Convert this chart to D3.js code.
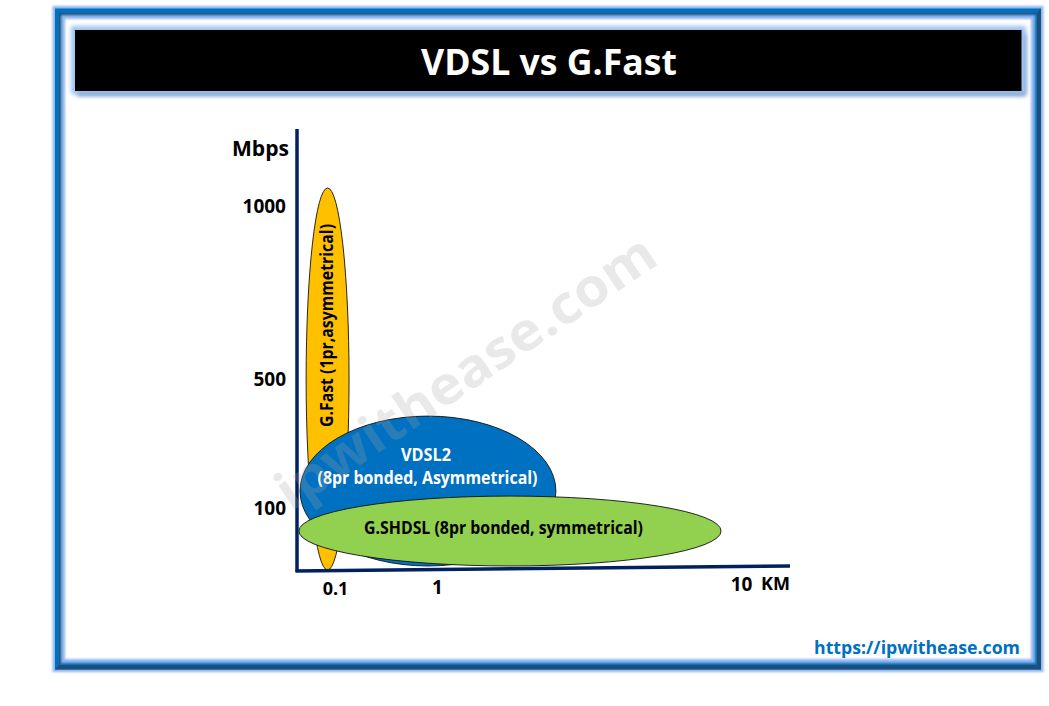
<!DOCTYPE html>
<html><head><meta charset="utf-8">
<script src="https://cdnjs.cloudflare.com/ajax/libs/d3/7.8.5/d3.min.js"></script>
<style>html,body{margin:0;padding:0;background:#fff}svg{display:block}text{font-family:"Open Sans",sans-serif;font-weight:700}</style>
</head><body><div id="c"></div>
<script>
const titleText = "VDSL vs G.Fast";
const yUnit = "Mbps";
const xUnit = "KM";
const sourceText = "https://ipwithease.com";
const watermarkText = "ipwithease.com";

const yTicks = [1000, 500, 100];
const xTicks = [0.1, 1, 10];

const regionNames = ["G.Fast", "VDSL2", "G.SHDSL"];
const regionKmMin = [0.024, 0.008, 0.005];
const regionKmMax = [0.224, 4.52, 9.41];
const regionMbpsMin = [0, 6.5, 6.5];
const regionMbpsMax = [1052, 385, 137];
const regionColors = ["#ffc000", "#0070c0", "#92d050"];

const W = 1049, H = 706;
const svg = d3.select("#c").append("svg").attr("width", W).attr("height", H);
const defs = svg.append("defs");
const f = defs.append("filter").attr("id","glow").attr("x","-5%").attr("y","-5%").attr("width","110%").attr("height","110%");
f.append("feGaussianBlur").attr("stdDeviation",1.3);
const f2 = defs.append("filter").attr("id","barglow").attr("x","-3%").attr("y","-20%").attr("width","106%").attr("height","140%");
f2.append("feGaussianBlur").attr("stdDeviation",2);

// frame with bevelled bands
const frame = svg.append("g");
frame.append("rect").attr("x",52.5).attr("y",6).attr("width",991).attr("height",666).attr("fill","#8fb6ee").attr("filter","url(#glow)");
frame.append("rect").attr("x",55).attr("y",8.5).attr("width",986).attr("height",661).attr("fill","#0070c0");
frame.append("path").attr("fill","#1f4e79").attr("d","M59 13H1037L1033 17H63V661L59 665Z");
frame.append("path").attr("fill","#1f4e79").attr("d","M1041 8.5V669.5H55L59 665H1037V13Z");
frame.append("rect").attr("x",63).attr("y",17).attr("width",970).attr("height",644).attr("fill","#fff");
frame.append("path").attr("fill","none").attr("stroke","#8fb6ee").attr("stroke-width",4).attr("filter","url(#glow)")
  .attr("d","M63 17H1033V661H63Z");

// title bar
svg.append("rect").attr("x",77).attr("y",34).attr("width",949).attr("height",62).attr("fill","#6f92c2").attr("filter","url(#barglow)");
svg.append("rect").attr("x",71).attr("y",26).attr("width",955).attr("height",68).attr("fill","#9dc3ee").attr("filter","url(#barglow)");
svg.append("rect").attr("x",75).attr("y",30).attr("width",946.5).attr("height",61).attr("fill","#000");
svg.append("text").attr("x",549).attr("y",75).attr("text-anchor","middle").attr("fill","#fff")
  .attr("font-size",36).attr("textLength",256).attr("lengthAdjust","spacingAndGlyphs").text(titleText);

// scales (both axes of the original are not uniform)
const x = d3.scaleLinear().domain([0, 0.1, 1, 10, 11.45]).range([297, 335, 437, 741, 790]);
const y = d3.scaleLinear().domain([0, 100, 500, 1000, 1222]).range([570, 508, 379, 206, 129]);

// regions
const regions = regionNames.map((n,i)=>({n,a:regionKmMin[i],b:regionKmMax[i],lo:regionMbpsMin[i],hi:regionMbpsMax[i],c:regionColors[i]}));
svg.append("g").selectAll("ellipse").data(regions).join("ellipse")
  .attr("cx",d=>(x(d.a)+x(d.b))/2).attr("cy",d=>(y(d.lo)+y(d.hi))/2)
  .attr("rx",d=>(x(d.b)-x(d.a))/2).attr("ry",d=>(y(d.lo)-y(d.hi))/2)
  .attr("fill",d=>d.c).attr("stroke","#111").attr("stroke-width",0.9);

// axes
const yAxis = svg.append("g").attr("transform",`translate(${x(0)},0)`)
  .call(d3.axisLeft(y).tickValues(yTicks).tickSize(0).tickPadding(11).tickFormat(d3.format("d")));
yAxis.select(".domain").remove();
yAxis.selectAll("text").attr("font-size",19).attr("fill","#000").attr("font-family",'"Open Sans",sans-serif').attr("dy","0.35em");

const xAxis = svg.append("g").attr("transform",`translate(0,${y(0)})`)
  .call(d3.axisBottom(x).tickValues(xTicks).tickSize(0).tickPadding(0).tickFormat(d=>String(d)));
xAxis.select(".domain").remove();
const tilt = 5/494;
xAxis.selectAll(".tick text").attr("font-size",19).attr("fill","#000").attr("font-family",'"Open Sans",sans-serif')
  .attr("dy",0).attr("y",d=>25-(x(d)-335)*tilt);
xAxis.selectAll(".tick").filter(d=>d===0.1).select("text").attr("font-size",18);

svg.append("line").attr("x1",x(0)).attr("y1",y(1222)).attr("x2",x(0)).attr("y2",y(0)+2)
  .attr("stroke","#002060").attr("stroke-width",3.5);
svg.append("line").attr("x1",x(0)-1.5).attr("y1",y(0)+1).attr("x2",x(11.45)).attr("y2",y(0)-4)
  .attr("stroke","#002060").attr("stroke-width",3.5);

svg.append("text").attr("x",232).attr("y",156).attr("font-size",21).attr("textLength",57).attr("lengthAdjust","spacingAndGlyphs").text(yUnit);
svg.append("text").attr("x",761).attr("y",590).attr("font-size",18).attr("textLength",29).attr("lengthAdjust","spacingAndGlyphs").text(xUnit);

// region labels
const lab = svg.append("g").attr("fill","#000").attr("font-size",17);
lab.append("text").attr("transform",`translate(333,427) rotate(-90)`).attr("textLength",203).attr("lengthAdjust","spacingAndGlyphs").text("G.Fast (1pr,asymmetrical)");
lab.append("text").attr("x",426).attr("y",461).attr("text-anchor","middle").attr("fill","#fff").attr("textLength",50).attr("lengthAdjust","spacingAndGlyphs").text("VDSL2");
lab.append("text").attr("x",427.5).attr("y",484).attr("text-anchor","middle").attr("fill","#fff").attr("textLength",220).attr("lengthAdjust","spacingAndGlyphs").text("(8pr bonded, Asymmetrical)");
lab.append("text").attr("x",503.5).attr("y",534).attr("text-anchor","middle").attr("textLength",279).attr("lengthAdjust","spacingAndGlyphs").text("G.SHDSL (8pr bonded, symmetrical)");

// watermark
svg.append("text").attr("transform","translate(291,512) rotate(-34)").attr("font-size",53).attr("fill","#a6a6a6").attr("opacity",.24)
  .attr("textLength",446).attr("lengthAdjust","spacingAndGlyphs").text(watermarkText);

// source
svg.append("text").attr("x",814).attr("y",654).attr("font-size",18).attr("fill","#0070c0").attr("textLength",206).attr("lengthAdjust","spacingAndGlyphs").text(sourceText);
</script></body></html>
